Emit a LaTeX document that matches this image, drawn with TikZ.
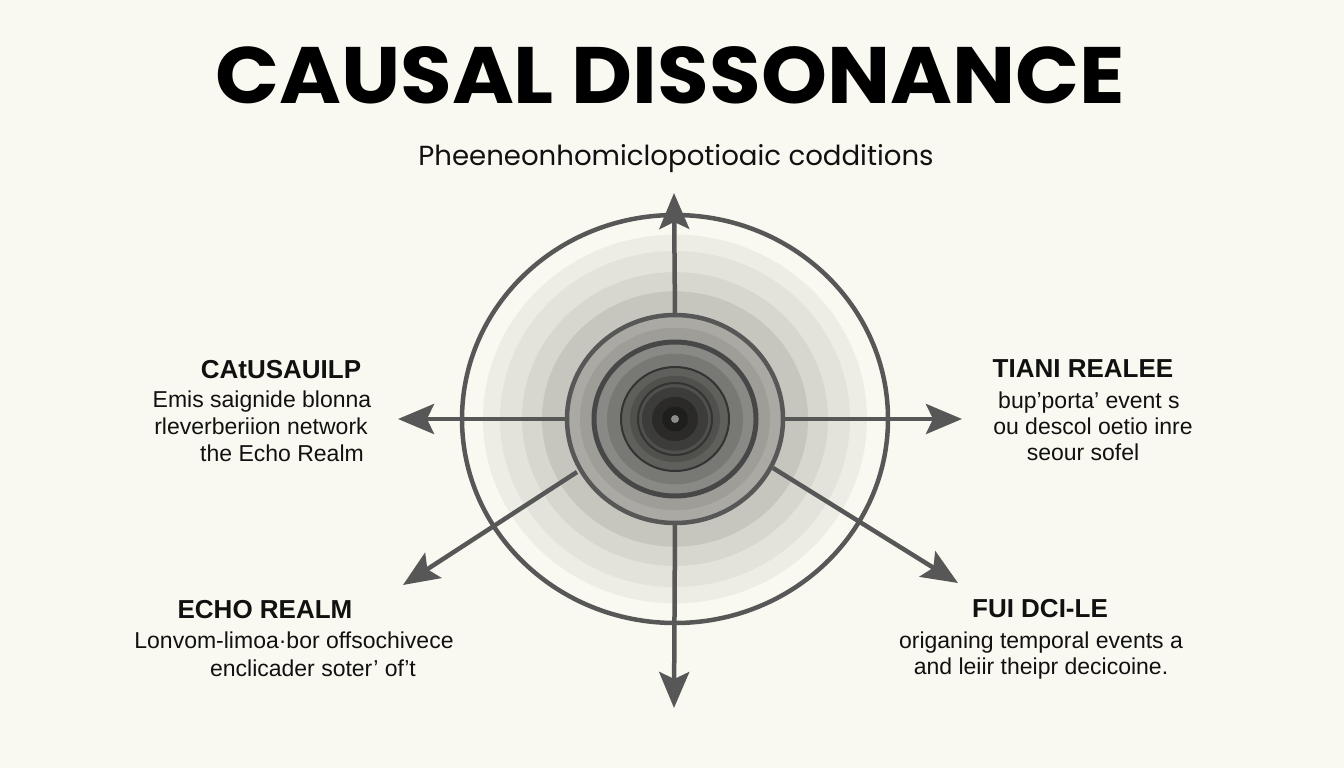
\documentclass[tikz,border=0pt]{standalone}
\usepackage{fontspec}
\setmainfont{Liberation Sans}
\newfontfamily\titlefont{Poppins}
\usetikzlibrary{arrows.meta}
\definecolor{bg}{HTML}{FAF9F1}
\definecolor{ink}{HTML}{575757}
\definecolor{txt}{HTML}{111111}
\tikzset{
  arr/.style={draw=ink, line width=4.5pt, -{Stealth[length=36pt,width=30pt,inset=7pt]}},
  ring/.style={draw=ink, line width=4.5pt},
  thinring/.style={draw=black!80, line width=2pt},
  lbl/.style={anchor=base, text=txt, font=\bfseries\fontsize{26}{30}\selectfont, inner sep=0pt},
  body/.style={anchor=base, text=txt, font=\fontsize{23}{27}\selectfont, inner sep=0pt}
}
\begin{document}
\begin{tikzpicture}[x=1pt,y=-1pt]
\useasboundingbox (0,0) rectangle (1344,768);
\fill[bg] (0,0) rectangle (1344,768);

% title and subtitle
\node[anchor=base, text=black, inner sep=0pt, font=\titlefont\bfseries\fontsize{80}{80}\selectfont] (title) at (670,103) {\scalebox{1.05}[1]{CAUSAL DISSONANCE}};
\node[anchor=base, text=txt, inner sep=0pt, font=\titlefont\fontsize{27.6}{31}\selectfont] (subtitle) at (676,165) {Pheeneonhomiclopotioaic codditions};

% centre
\coordinate (c) at (675,419);

% shaded bands
\foreach \r/\p in {192/5,175/9,153/14,133/21,108/32,95/37,81/45,68/52,54/62,45/68,33/76,23/83,13/88}{
  \fill[black!\p!bg] (c) ellipse [x radius=\r pt, y radius=0.96*\r pt];
}
% rings
\draw[ring] (c) ellipse [x radius=213pt, y radius=204pt];
\draw[ring] (c) ellipse [x radius=108pt, y radius=104pt];
\draw[draw=black!72, line width=5pt] (c) ellipse [x radius=81pt, y radius=77pt];
\draw[thinring] (c) ellipse [x radius=54pt, y radius=52pt];
\draw[thinring] (c) ellipse [x radius=37pt, y radius=36pt];
\fill[black!45] (c) circle [radius=4pt];

% arrow ends
\coordinate (sL) at (567,419);  \coordinate (tL) at (398,419);
\coordinate (sR) at (783,419);  \coordinate (tR) at (962,419);
\coordinate (sT) at (675,315);  \coordinate (tT) at (674,193);
\coordinate (sB) at (675,523);  \coordinate (tB) at (674,708);
\coordinate (sLL) at (577,472); \coordinate (tLL) at (403,585);
\coordinate (sLR) at (773,468); \coordinate (tLR) at (958,583);

\draw[arr] (sL) -- (tL);
\draw[arr] (sR) -- (tR);
\draw[arr] (sT) -- (tT);
\draw[arr] (sB) -- (tB);
\draw[arr] (sLL) -- (tLL);
\draw[arr] (sLR) -- (tLR);

% upper left
\node[lbl] (ulh) at (281,378) {CAtUSAUILP};
\node[body] (ul1) at (262,407) {Emis saignide blonna};
\node[body] (ul2) at (261,434) {rleverberiion network};
\node[body] (ul3) at (282,461) {the Echo Realm};

% upper right
\node[lbl] (urh) at (1083,377) {TIANI REALEE};
\node[body] (ur1) at (1089,408) {bup’porta’ event s};
\node[body] (ur2) at (1093,434) {ou descol oetio inre};
\node[body] (ur3) at (1083,460) {seour sofel};

% lower left
\node[lbl] (llh) at (265,618) {ECHO REALM};
\node[body] (ll1) at (294,648) {Lonvom-limoa·bor offsochivece};
\node[body] (ll2) at (313,676) {enclicader soter’ of’t};

% lower right
\node[lbl] (lrh) at (1040,617) {FUI DCI-LE};
\node[body] (lr1) at (1041,648) {origaning temporal events a};
\node[body] (lr2) at (1041,674) {and leiir theipr decicoine.};
\end{tikzpicture}
\end{document}
